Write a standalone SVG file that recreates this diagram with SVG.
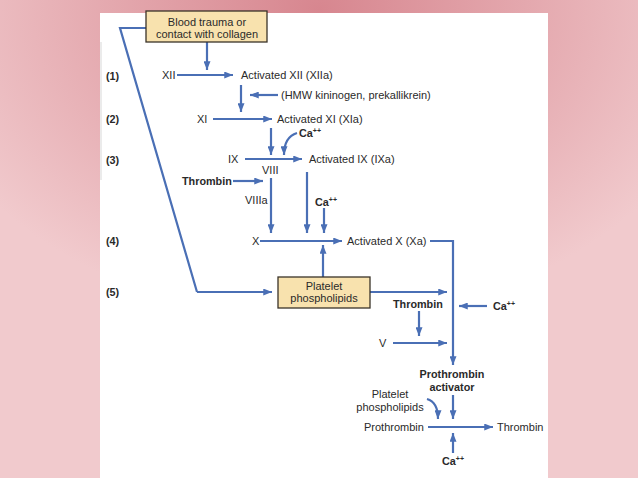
<svg xmlns="http://www.w3.org/2000/svg" width="638" height="478" viewBox="0 0 638 478">
<defs>
<radialGradient id="bg1" cx="0.5" cy="0.02" r="0.65">
<stop offset="0" stop-color="#d7868f"/>
<stop offset="1" stop-color="#f1cacd"/>
</radialGradient>
<marker id="ah" viewBox="0 0 10 8" refX="10" refY="4" markerWidth="9" markerHeight="7" markerUnits="userSpaceOnUse" orient="auto">
<path d="M0,0 L10,4 L0,8 Z" fill="#4a6fb5"/>
</marker>
<style>
.c{fill:none;stroke:#4a6fb5;stroke-width:2.2;marker-end:url(#ah)}
.n{fill:none;stroke:#4a6fb5;stroke-width:2.2}
text{font-family:"Liberation Sans",Arial,sans-serif;font-size:11px;fill:#2a2a2a}
.b{font-weight:bold;font-size:10.8px}
.box{fill:#f8e2ae;stroke:#3a3328;stroke-width:1.3}
.m{text-anchor:middle}
.sup{font-size:7px}
</style>
</defs>
<rect x="0" y="0" width="638" height="478" fill="url(#bg1)"/>
<rect x="100" y="13" width="448" height="465" fill="#ffffff"/>
<line x1="101" y1="42" x2="101" y2="180" stroke="#e4e4e4" stroke-width="1.5"/>

<g id="connectors">
<path class="n" d="M146,28 H120 L197,292"/>
<path class="c" d="M197,292 H272"/>
<path class="c" d="M207,42 V70"/>
<path class="c" d="M177,75 H233"/>
<path class="c" d="M241,85 V112"/>
<path class="c" d="M278,95 H250"/>
<path class="c" d="M213,119 H272"/>
<path class="c" d="M271,128 V155"/>
<path class="c" d="M297,133 Q284,137 284,155"/>
<path class="c" d="M245,159 H302"/>
<path class="c" d="M233,181 H263"/>
<path class="c" d="M271,178 V233"/>
<path class="c" d="M307,172 V233"/>
<path class="c" d="M324,208 V233"/>
<path class="c" d="M260,241 H342"/>
<path class="c" d="M323,277 V245"/>
<path class="c" d="M430,241 H453 V365"/>
<path class="c" d="M370,292 H447"/>
<path class="c" d="M487,306 H459"/>
<path class="c" d="M419,311 V336"/>
<path class="c" d="M393,343 H447"/>
<path class="c" d="M427,399 Q438,402 438,419"/>
<path class="c" d="M453,395 V419"/>
<path class="c" d="M428,427 H493"/>
<path class="c" d="M453,453 V433"/>
</g>

<g id="blood-trauma">
<rect class="box" x="146" y="11" width="121" height="31"/>
<text class="m" x="207" y="26">Blood trauma or</text>
<text class="m" x="207" y="38">contact with collagen</text>
</g>

<g id="steps">
<text class="b" x="106" y="80">(1)</text>
<text class="b" x="106" y="123">(2)</text>
<text class="b" x="106" y="164">(3)</text>
<text class="b" x="106" y="245">(4)</text>
<text class="b" x="106" y="296">(5)</text>
</g>

<g id="xii"><text x="162" y="79">XII</text></g>
<g id="xiia"><text x="241" y="79">Activated XII (XIIa)</text></g>
<g id="hmw"><text x="281" y="99">(HMW kininogen, prekallikrein)</text></g>
<g id="xi"><text x="197" y="123">XI</text></g>
<g id="xia"><text x="277" y="123">Activated XI (XIa)</text></g>
<g id="ca1"><text class="b" x="299" y="137">Ca<tspan class="sup" dy="-4">++</tspan></text></g>
<g id="ix"><text x="228" y="163">IX</text></g>
<g id="ixa"><text x="309" y="163">Activated IX (IXa)</text></g>
<g id="viii"><text x="262" y="174">VIII</text></g>
<g id="thrombin1"><text class="b" x="182" y="185">Thrombin</text></g>
<g id="viiia"><text x="245" y="204">VIIIa</text></g>
<g id="ca2"><text class="b" x="315" y="206">Ca<tspan class="sup" dy="-4">++</tspan></text></g>
<g id="x"><text x="252" y="245">X</text></g>
<g id="xa"><text x="347" y="245">Activated X (Xa)</text></g>

<g id="platelet">
<rect class="box" x="278" y="277" width="92" height="31"/>
<text class="m" x="324" y="290">Platelet</text>
<text class="m" x="324" y="302">phospholipids</text>
</g>

<g id="thrombin2"><text class="b" x="393" y="308">Thrombin</text></g>
<g id="ca3"><text class="b" x="493" y="310">Ca<tspan class="sup" dy="-4">++</tspan></text></g>
<g id="v"><text x="379" y="347">V</text></g>
<g id="prothrombin-activator">
<text class="b m" x="452" y="378">Prothrombin</text>
<text class="b m" x="452" y="391">activator</text>
</g>
<g id="platelet2">
<text class="m" x="390" y="398">Platelet</text>
<text class="m" x="390" y="411">phospholipids</text>
</g>
<g id="prothrombin"><text x="364" y="431">Prothrombin</text></g>
<g id="thrombin3"><text x="497" y="431">Thrombin</text></g>
<g id="ca4"><text class="b m" x="453" y="465">Ca<tspan class="sup" dy="-4">++</tspan></text></g>
</svg>
